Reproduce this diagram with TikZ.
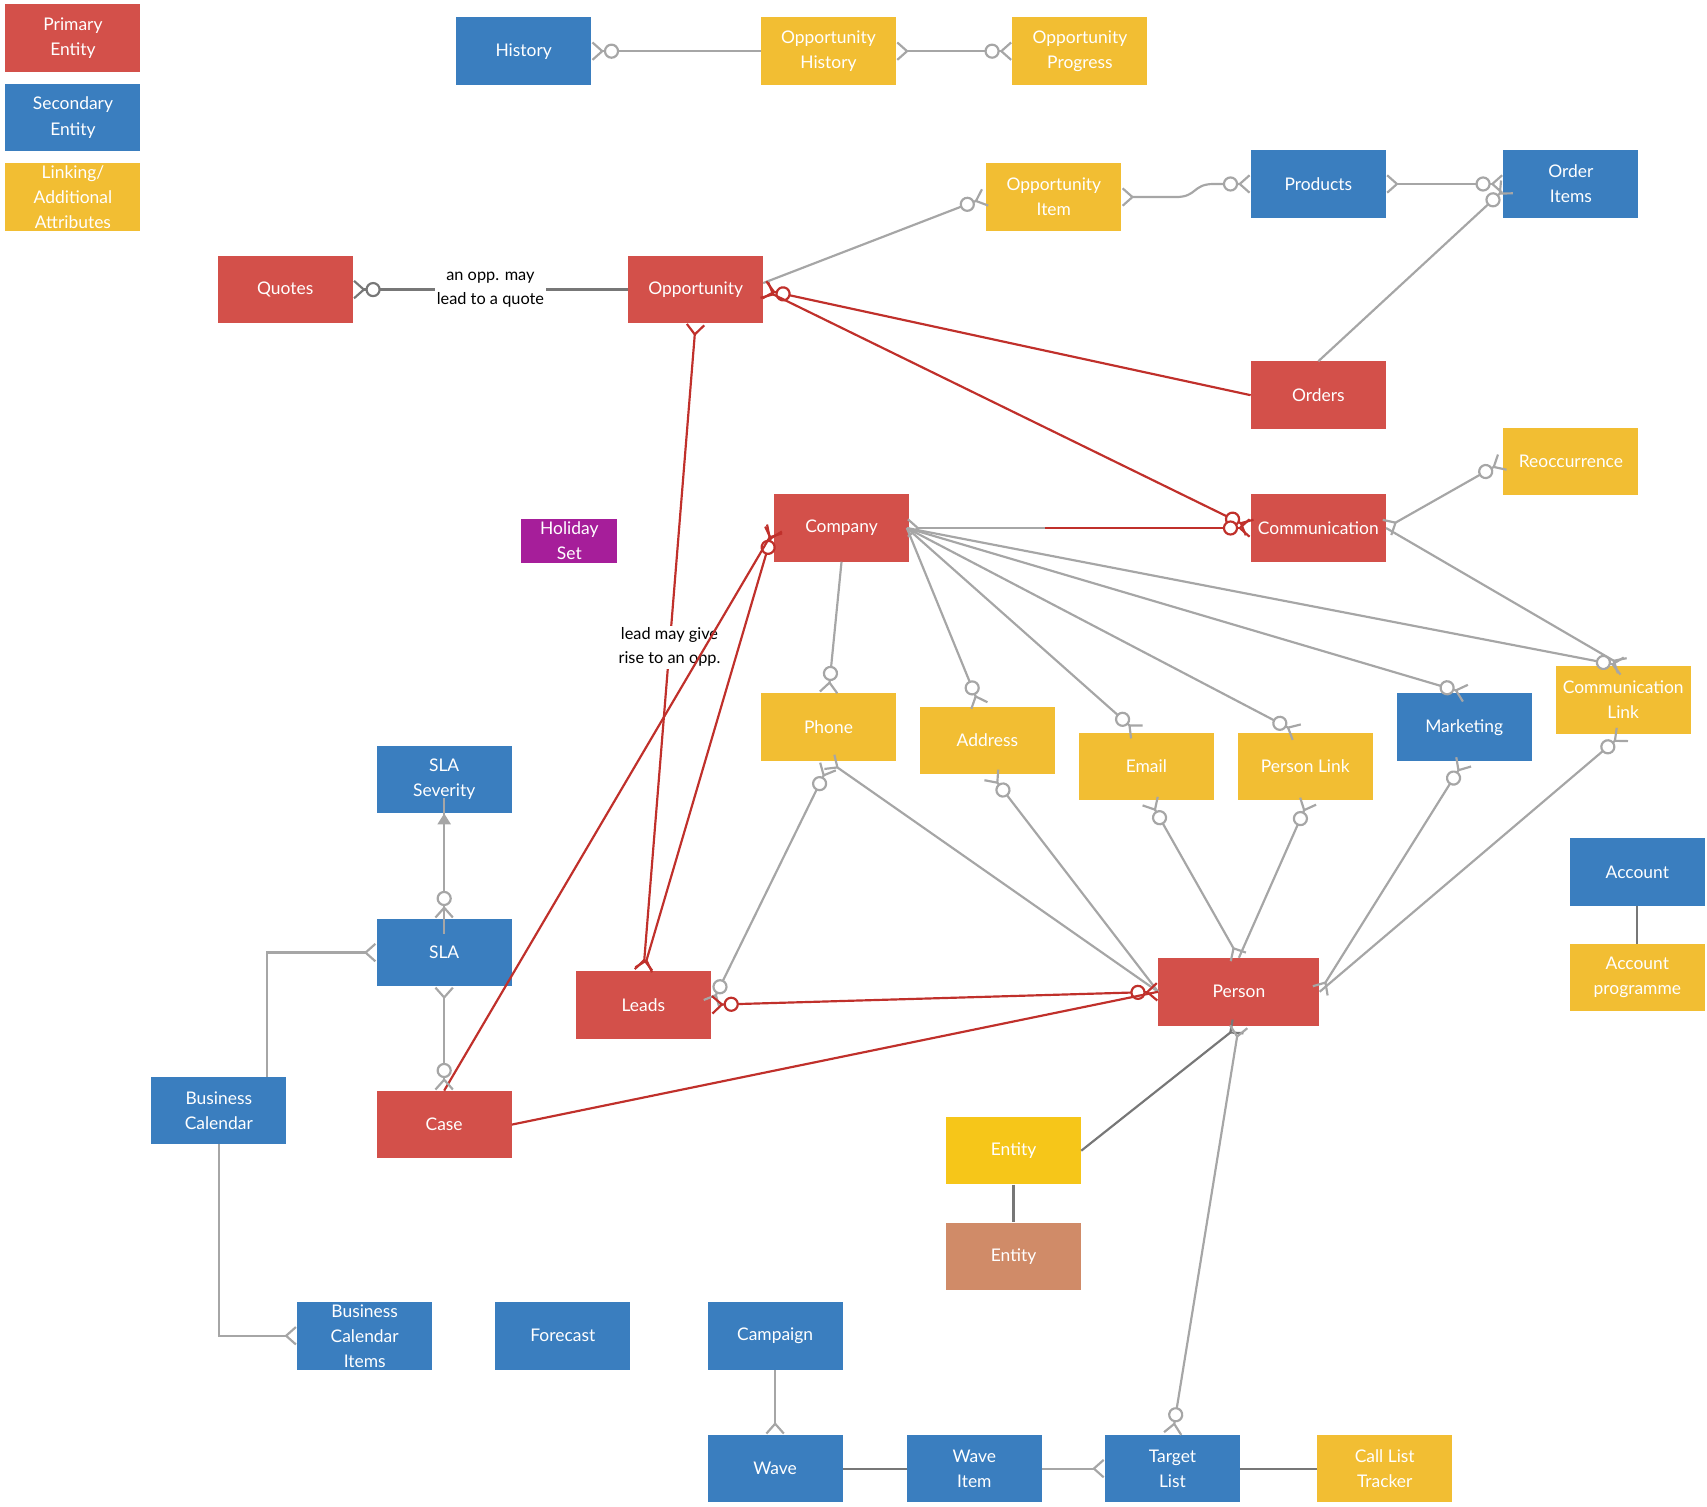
\documentclass[tikz,border=0pt]{standalone}
\usepackage{fontspec}
\setmainfont{Lato}
\usetikzlibrary{arrows.meta,positioning}
\definecolor{pr}{HTML}{D3504A}
\definecolor{se}{HTML}{3A7EBF}
\definecolor{li}{HTML}{F2BE33}
\definecolor{en}{HTML}{F6C619}
\definecolor{tn}{HTML}{D08B68}
\definecolor{pu}{HTML}{A61E9A}
\definecolor{gl}{HTML}{A6A6A6}
\definecolor{gd}{HTML}{777777}
\definecolor{rl}{HTML}{C0302B}
\tikzset{
 box/.style={minimum width=124pt,minimum height=62pt,inner sep=1pt,text=white,align=center,font=\fontsize{16}{23}\selectfont},
 P/.style={box,fill=pr},S/.style={box,fill=se},L/.style={box,fill=li},
 g/.style={draw=gl,line width=2pt},
 gd/.style={draw=gd,line width=2pt},
 r/.style={draw=rl,line width=2pt},
 zm/.tip={Circle[open,fill=white,length=14pt,width=14pt] Straight Barb[reversed,length=9pt,width=16pt]},
 mm/.tip={Straight Barb[reversed,length=9pt,width=16pt]},
 lab/.style={fill=white,text=black,align=center,font=\fontsize{15}{22}\selectfont,inner sep=2pt}
}
\begin{document}
\begin{tikzpicture}[x=1pt,y=-1pt]
\useasboundingbox (0,0) rectangle (1568,1384);
% legend
\node[P] (l1) at (67,35) {Primary\\Entity};
\node[S] (l2) at (67,108) {Secondary\\Entity};
\node[L] (l3) at (67,181) {Linking/\\Additional\\Attributes};
% nodes
\node[S] (hist) at (481,47) {History};
\node[L] (oph) at (761,47) {Opportunity\\History};
\node[L] (opp2) at (992,47) {Opportunity\\Progress};
\node[L] (opi) at (968,181) {Opportunity\\Item};
\node[S] (prod) at (1211,169) {Products};
\node[S] (ordi) at (1443,169) {Order\\Items};
\node[P] (quot) at (262,266) {Quotes};
\node[P] (opp) at (639,266) {Opportunity};
\node[P] (ord) at (1211,363) {Orders};
\node[L] (reo) at (1443,424) {Reoccurrence};
\node[box,fill=pu,minimum width=88pt,minimum height=40pt] (hol) at (523,497) {Holiday\\Set};
\node[P] (comp) at (773,485) {Company};
\node[P] (comm) at (1211,485) {Communication};
\node[L] (cl) at (1491,643) {Communication\\Link};
\node[L] (ph) at (761,668) {Phone};
\node[L] (ad) at (907,680) {Address};
\node[L] (em) at (1053,704) {Email};
\node[L] (pl) at (1199,704) {Person Link};
\node[S] (mk) at (1345,668) {Marketing};
\node[S] (slas) at (408,716) {SLA\\Severity};
\node[S] (sla) at (408,875) {SLA};
\node[S] (acc) at (1504,801) {Account};
\node[L] (accp) at (1504,898) {Account\\programme};
\node[P] (lead) at (591,923) {Leads};
\node[P,minimum width=148pt] (pers) at (1138,911) {Person};
\node[S] (bc) at (201,1020) {Business\\Calendar};
\node[P] (case) at (408,1033) {Case};
\node[box,fill=en] (e1) at (931,1057) {Entity};
\node[box,fill=tn] (e2) at (931,1154) {Entity};
\node[S] (bci) at (335,1227) {Business\\Calendar\\Items};
\node[S] (fc) at (517,1227) {Forecast};
\node[S] (camp) at (712,1227) {Campaign};
\node[S] (wave) at (712,1349) {Wave};
\node[S] (wi) at (895,1349) {Wave\\Item};
\node[S] (tl) at (1077,1349) {Target\\List};
\node[L] (clt) at (1272,1349) {Call List\\Tracker};
% coordinates
\coordinate (ce) at (833,485);
% top
\draw[g,{zm}-] (hist.east) -- (oph.west);
\draw[g,{mm}-{zm}] (oph.east) -- (opp2.west);
\draw[g,-{zm}] (701,260) -- (opi.west);
\draw[g,{mm}-{zm}] (opi.east) -- (1080,181) .. controls (1100,181) and (1095,169) .. (1115,169) -- (prod.west);
\draw[g,{mm}-{zm}] (prod.east) -- (ordi.west);
\draw[g,-{zm}] (ord.north) -- (1385,171);
\draw[gd,{zm}-] (quot.east) -- node[lab]{an opp. may\\lead to a quote} (opp.west);
\draw[r,{zm}-] (opp.east) -- (ord.west);
\draw[r,{mm}-{zm}] (opp.east) -- (comm.west);
\draw[r,{mm}-{mm}] (opp.south) -- node[lab,pos=0.5]{lead may give\\rise to an opp.} (lead.north);
\draw[g,{mm}-] (ce) -- (960,485);
\draw[r,-{zm}] (960,485) -- (comm.west);
\draw[g,{mm}-{zm}] (comm.east) -- (reo.west);
\draw[g,-{mm}] (comm.east) -- (1491,612);
\draw[g,-{zm}] (ce) -- (1491,612);
\draw[g,-{zm}] (773,516) -- (761,637);
\draw[g,-{zm}] (ce) -- (900,649);
\draw[g,-{zm}] (ce) -- (1045,673);
\draw[g,-{zm}] (ce) -- (1192,673);
\draw[g,-{zm}] (ce) -- (1347,637);
\draw[r,{zm}-{mm}] (comp.west) -- (lead.north);
\draw[r,{mm}-] (712,485) -- (case.north);
% middle
\draw[g,{zm}-{zm}] (lead.east) -- ([yshift=-4pt]ph.south);
\draw[g,{mm}-] (ph.south) -- (pers.west);
\draw[g,{zm}-] (910,711) -- (pers.west);
\draw[g,{zm}-{mm}] (1056,735) -- (pers.north);
\draw[g,{zm}-] (1202,735) -- (pers.north);
\draw[g,{zm}-{mm}] (1345,699) -- (pers.east);
\draw[g,{zm}-] (1491,674) -- (pers.east);
\draw[r,{zm}-{zm}] (lead.east) -- (pers.west);
\draw[r] (case.east) -- (pers.west);
\draw[g,-{Triangle[length=10pt,width=12pt]}] ([yshift=-14pt]sla.north) -- (slas.south);
\draw[g,-{zm}] ([yshift=14pt]slas.south) -- (sla.north);
\draw[g,{mm}-{zm}] (sla.south) -- (case.north);
\draw[g,-{mm}] (245,989) -- (245,875) -- (sla.west);
\draw[g,-{mm}] (bc.south) -- (201,1227) -- (bci.west);
\draw[gd,-{mm}] (e1.east) -- (pers.south);
\draw[gd] (e1.south) -- (e2.north);
\draw[g,{mm}-{zm}] (pers.south) -- (tl.north);
\draw[g,-{mm}] (camp.south) -- (wave.north);
\draw[gd] (wave.east) -- (wi.west);
\draw[g,-{mm}] (wi.east) -- (tl.west);
\draw[gd] (tl.east) -- (clt.west);
\draw[gd] (acc.south) -- (accp.north);
\end{tikzpicture}
\end{document}
